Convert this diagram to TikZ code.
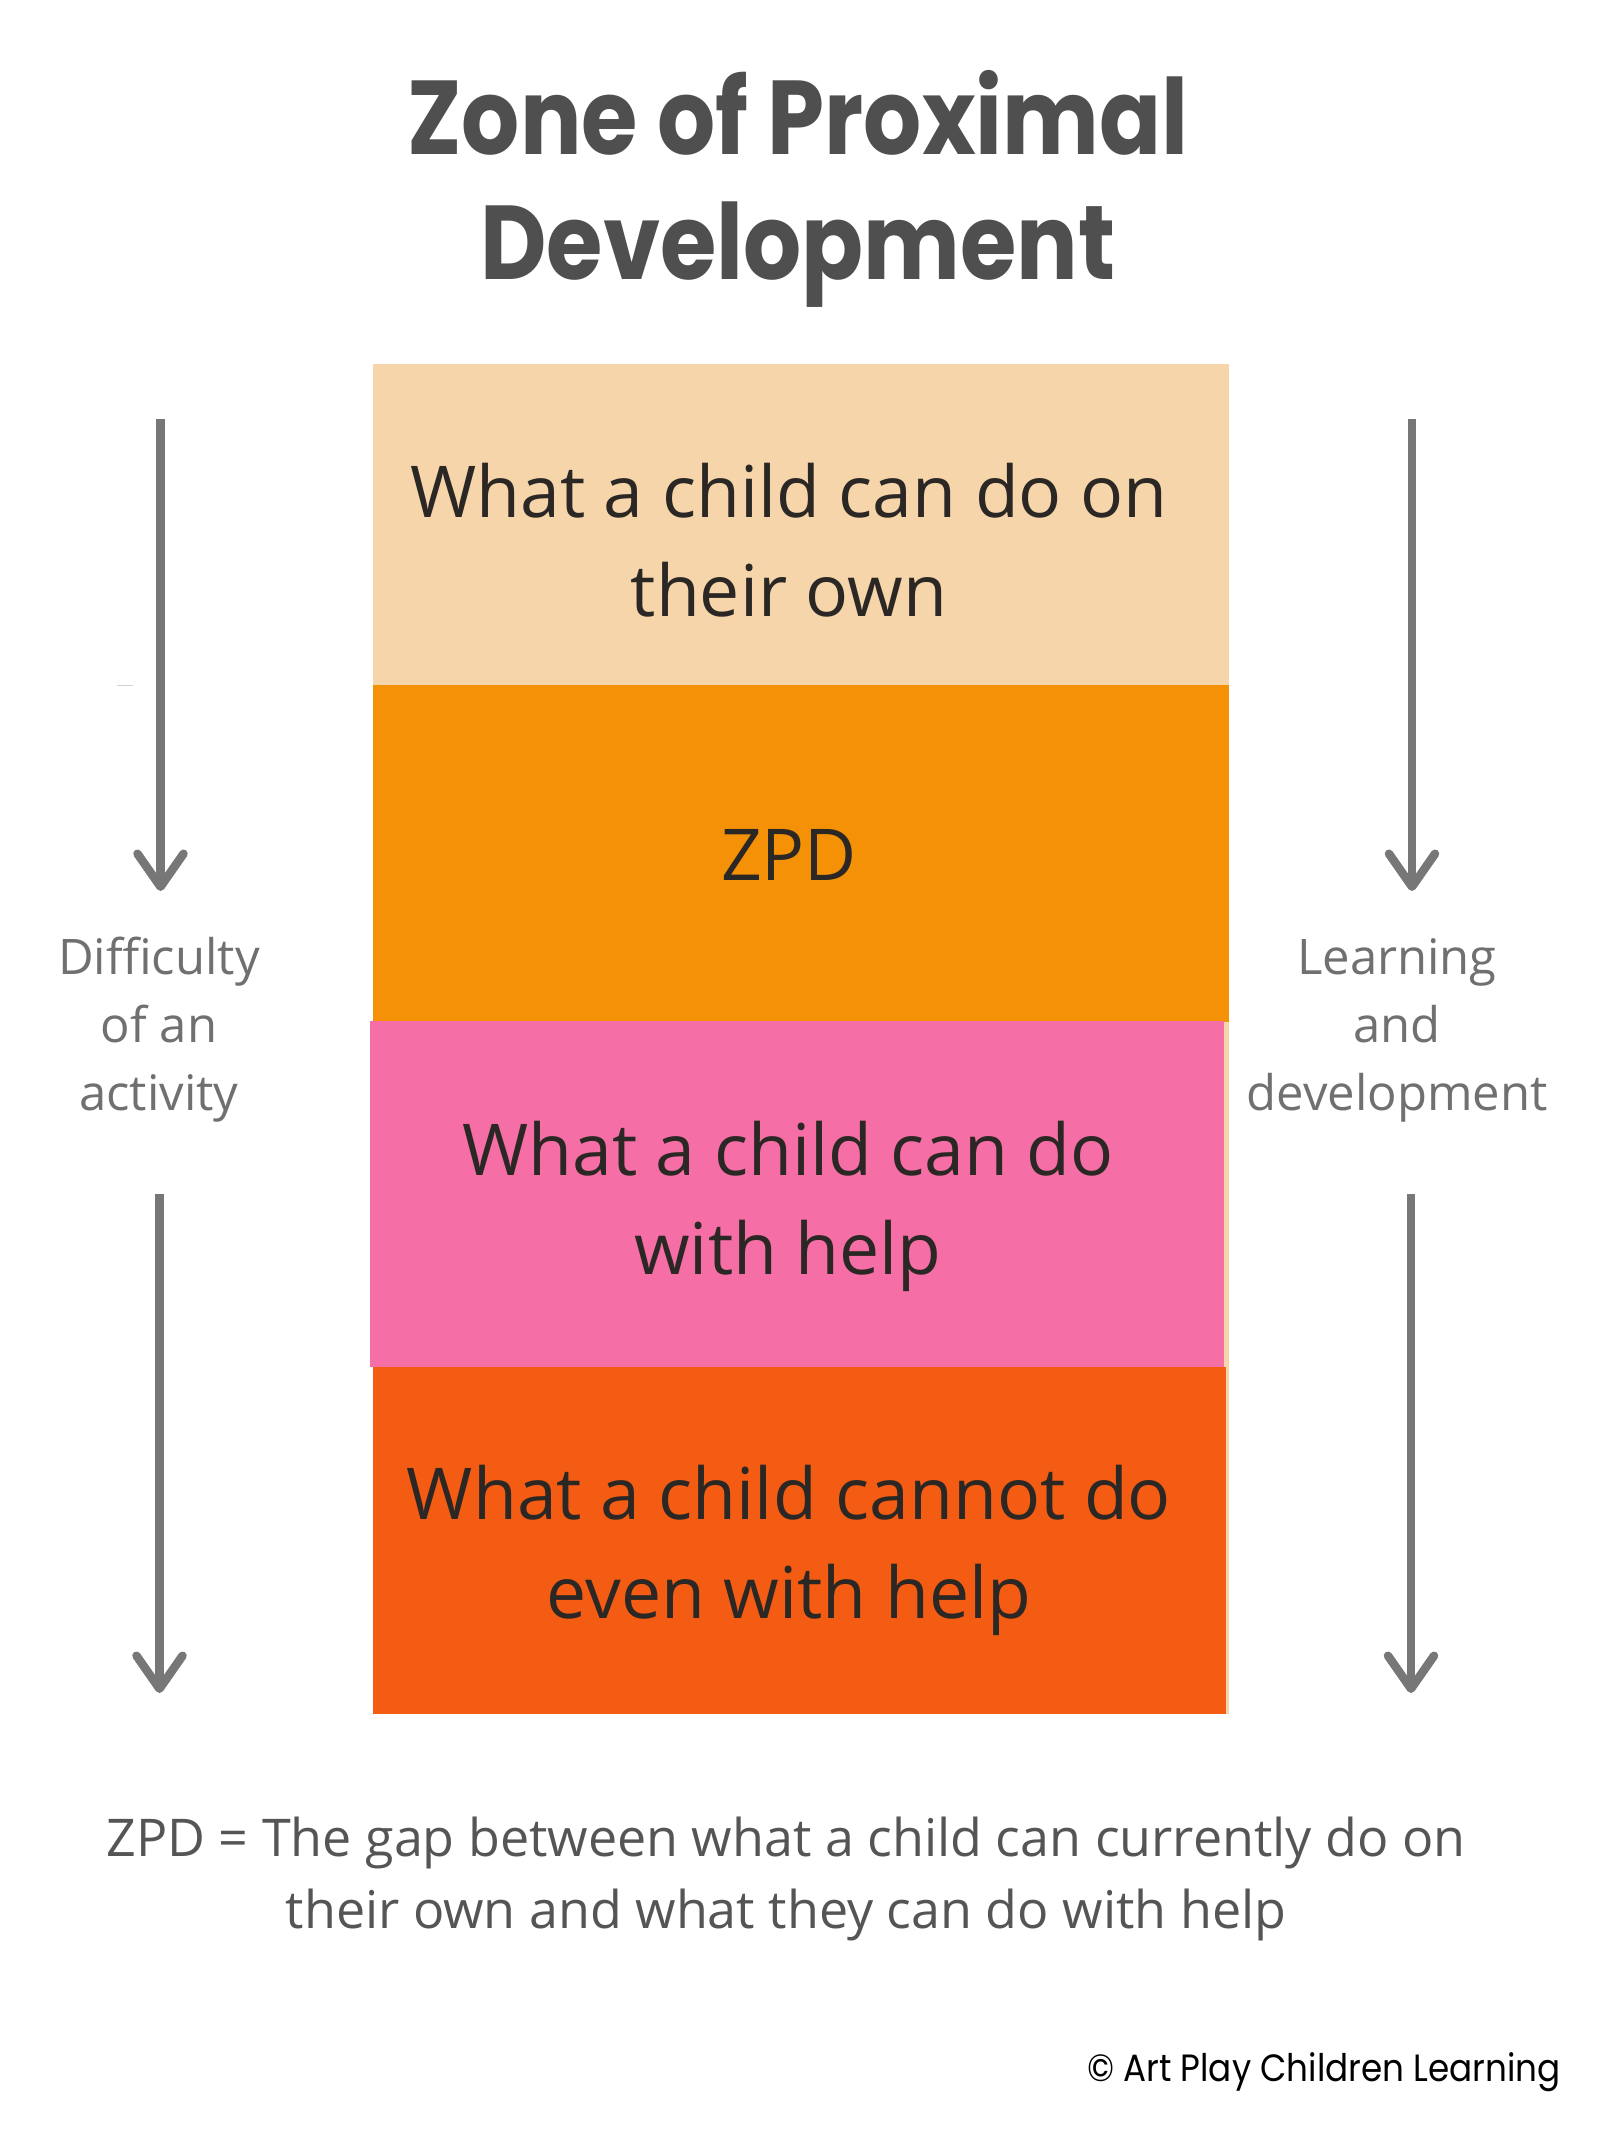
\documentclass[tikz,border=0pt]{standalone}
\usepackage{fontspec}
\setmainfont{Open Sans}
\newfontfamily\titlefont{Poppins}[FakeStretch=0.87]
\newfontfamily\copyfont{Poppins}[FakeStretch=0.9]
\usetikzlibrary{arrows.meta}
\definecolor{peach}{HTML}{F6D5AA}
\definecolor{zpdorange}{HTML}{F59106}
\definecolor{pinkz}{HTML}{F56FA6}
\definecolor{redorange}{HTML}{F45C14}
\definecolor{arrowgray}{HTML}{777777}
\definecolor{titlegray}{HTML}{4F4F4F}
\definecolor{textdark}{HTML}{2B2724}
\definecolor{labelgray}{HTML}{707070}
\definecolor{notegray}{HTML}{555555}
\tikzset{
  zonebox/.style={rectangle, draw=none, inner sep=0pt, anchor=north west},
  zonetext/.style={align=center, text=textdark, inner sep=0pt, anchor=base, font=\fontsize{71.5}{99}\selectfont},
  sidelabel/.style={align=center, text=labelgray, inner sep=0pt, anchor=base, font=\fontsize{49}{68}\selectfont},
  downarrow/.style={draw=arrowgray, line width=8.5pt, -{Straight Barb[length=33pt, width=46pt, line cap=round, line join=round]}},
  titleline/.style={anchor=base, text=titlegray, inner sep=0pt, font=\titlefont\bfseries\fontsize{105}{126}\selectfont},
}
\begin{document}
\begin{tikzpicture}[x=1pt,y=-1pt]
\useasboundingbox (0,0) rectangle (1600,2133);
\fill[white] (0,0) rectangle (1600,2133);

% title
\node[titleline] (title1) at (798,154) {Zone of Proximal};
\node[titleline] (title2) at (798,279) {Development};

% zone boxes
\fill[peach] (1222,1022) rectangle (1229,1714);
\node[zonebox, fill=peach, minimum width=856pt, minimum height=322pt] (own) at (373,364) {};
\node[zonebox, fill=zpdorange, minimum width=856pt, minimum height=337pt] (zpd) at (373,685) {};
\node[zonebox, fill=pinkz, minimum width=854pt, minimum height=346pt] (help) at (370,1021) {};
\node[zonebox, fill=redorange, minimum width=853pt, minimum height=347pt] (cannot) at (373,1367) {};

% box texts (base = last line)
\node[zonetext] (ownT) at (789,616) {What a child can do on\\their own};
\node[zonetext] (zpdT) at (789,880) {ZPD};
\node[zonetext] (helpT) at (788,1274) {What a child can do\\with help};
\node[zonetext] (cannotT) at (789,1618) {What a child cannot do\\even with help};

% stray mark
\draw[gray!35, line width=1pt] (117,685) -- (133,685);

% side arrows
\coordinate (l1s) at (160.5,419);
\coordinate (l1e) at (160.5,891);
\coordinate (l2s) at (159.5,1194);
\coordinate (l2e) at (159.5,1693);
\coordinate (r1s) at (1412,419);
\coordinate (r1e) at (1412,891);
\coordinate (r2s) at (1411,1194);
\coordinate (r2e) at (1411,1693);
\draw[downarrow] (l1s) -- (l1e);
\draw[downarrow] (l2s) -- (l2e);
\draw[downarrow] (r1s) -- (r1e);
\draw[downarrow] (r2s) -- (r2e);

% side labels (base = last line)
\node[sidelabel] (diff) at (159,1110) {Difficulty\\of an\\activity};
\node[sidelabel] (learn) at (1397,1110) {Learning\\and\\development};

% bottom definition
\node[align=center, text=notegray, inner sep=0pt, font=\fontsize{52}{72}\selectfont, anchor=base] (note) at (786,1928) {ZPD = The gap between what a child can currently do on\\their own and what they can do with help};

% copyright
\node[anchor=base east, inner sep=0pt, text=black, font=\copyfont\fontsize{38}{46}\selectfont] (copy) at (1561,2081) {© Art Play Children Learning};
\end{tikzpicture}
\end{document}
